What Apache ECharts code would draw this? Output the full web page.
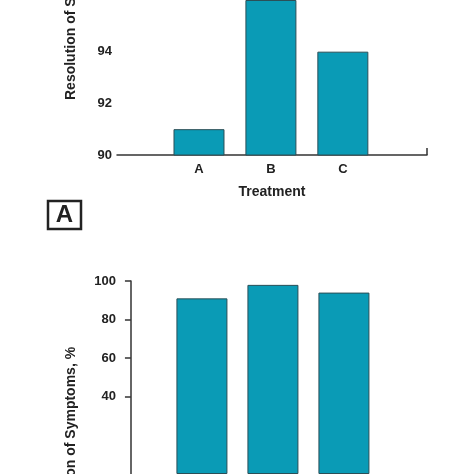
<!DOCTYPE html>
<html><head><meta charset="utf-8">
<script src="https://cdn.jsdelivr.net/npm/echarts@6/dist/echarts.min.js"></script>
<style>html,body{margin:0;padding:0;background:#fff}#c{width:474px;height:474px}</style>
</head><body><div id="c"></div>
<script>
var categories = ['A', 'B', 'C'];
var positions = [1, 2, 3];
var topValues = [91, 96, 94];      // B clipped at top in reference
var bottomValues = [91, 98, 94];
var topTicks = [90, 92, 94];
var bottomTicks = [40, 60, 80, 100];

var barColor = '#0a9bb6';
var f = 'Liberation Sans, Arial, sans-serif';
function pts(vals){ return positions.map(function(p,i){ return [p, vals[i]]; }); }
var chart = echarts.init(document.getElementById('c'));
chart.setOption({
  animation: false,
  grid: [
    {left: 117, right: 47, top: -28, bottom: 319},
    {left: 121, right: 47, top: 281, bottom: -114}
  ],
  xAxis: [
    {type: 'value', gridIndex: 0, min: -0.14, max: 4.17, splitLine: {show: false},
     axisLine: {show: true, lineStyle: {color: '#333', width: 1.5}},
     axisTick: {show: true, inside: true, length: 7, customValues: [4.17], lineStyle: {color: '#333', width: 1.5}},
     axisLabel: {customValues: positions, formatter: function(v){ return categories[Math.round(v) - 1] || ''; },
       color: '#222', fontFamily: f, fontWeight: 'bold', fontSize: 13, margin: 8},
     name: 'Treatment', nameLocation: 'middle', nameGap: 30,
     nameTextStyle: {color: '#222', fontFamily: f, fontWeight: 'bold', fontSize: 14}},
    {type: 'value', gridIndex: 1, min: -0.14, max: 4.17, show: false}
  ],
  yAxis: [
    {type: 'value', gridIndex: 0, min: 90, max: 96, splitLine: {show: false},
     axisLine: {show: false}, axisTick: {show: false},
     axisLabel: {customValues: topTicks, color: '#222', fontFamily: f, fontWeight: 'bold', fontSize: 13, margin: 5}},
    {type: 'value', gridIndex: 1, min: 0, max: 100, splitLine: {show: false},
     axisLine: {show: true, lineStyle: {color: '#333', width: 1.5}},
     axisTick: {show: true, length: 6, customValues: bottomTicks, lineStyle: {color: '#333', width: 1.5}},
     axisLabel: {customValues: bottomTicks, color: '#222', fontFamily: f, fontWeight: 'bold', fontSize: 13, margin: 5}}
  ],
  series: [
    {type: 'bar', xAxisIndex: 0, yAxisIndex: 0, data: pts(topValues), barWidth: 51, clip: true,
     itemStyle: {color: barColor, borderColor: '#2b4f57', borderWidth: 1}},
    {type: 'bar', xAxisIndex: 1, yAxisIndex: 1, data: pts(bottomValues), barWidth: 51, clip: true,
     itemStyle: {color: barColor, borderColor: '#2b4f57', borderWidth: 1}}
  ],
  graphic: [
    {type: 'text', x: 64, y: 100, rotation: Math.PI/2,
     style: {text: 'Resolution of Symptoms, %', fill: '#222', font: 'bold 14px ' + f, align: 'left', verticalAlign: 'top'}},
    {type: 'text', x: 64, y: 532, rotation: Math.PI/2,
     style: {text: 'Resolution of Symptoms, %', fill: '#222', font: 'bold 14px ' + f, align: 'left', verticalAlign: 'top'}},
    {type: 'rect', shape: {x: 48, y: 201, width: 33, height: 28},
     style: {fill: 'none', stroke: '#222', lineWidth: 2.5}},
    {type: 'text', x: 64.5, y: 215.5,
     style: {text: 'A', fill: '#222', font: 'bold 24px ' + f, align: 'center', verticalAlign: 'middle'}}
  ]
});
</script></body></html>
